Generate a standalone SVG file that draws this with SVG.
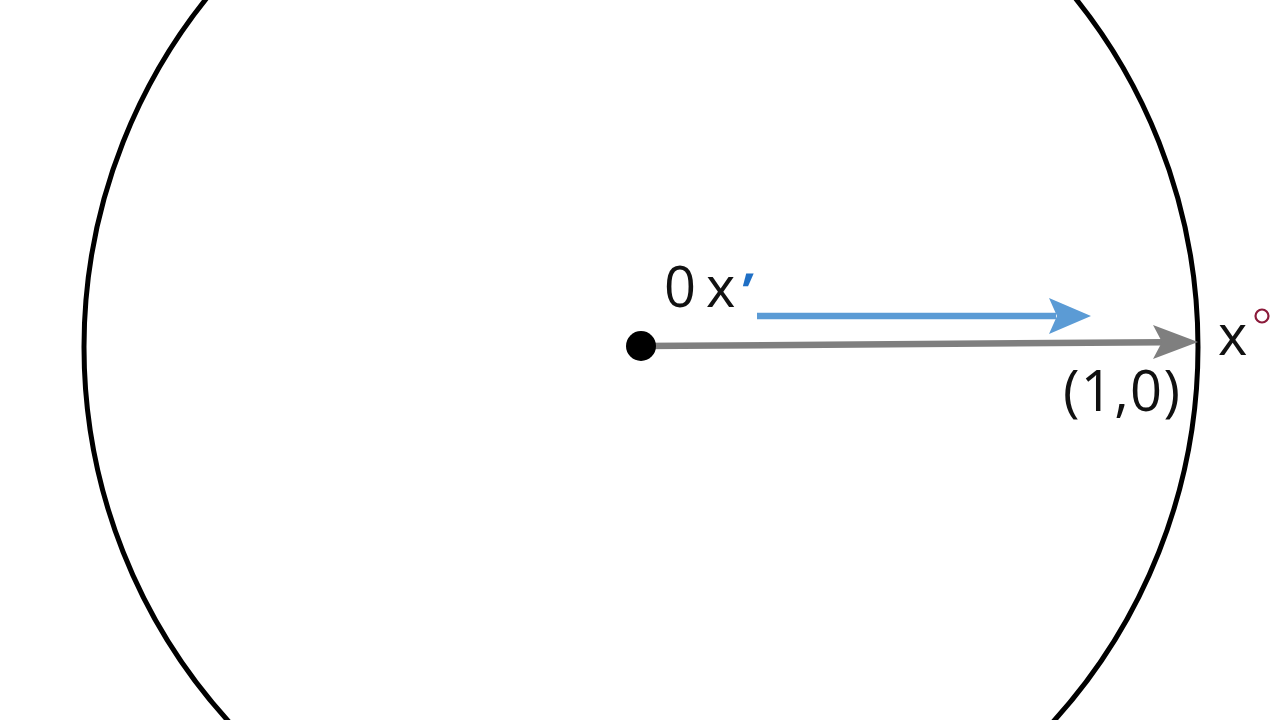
<svg xmlns="http://www.w3.org/2000/svg" width="1280" height="720" viewBox="0 0 1280 720">
<style>
.t{font-family:"Open Sans","Liberation Sans",sans-serif;fill:#111}
.g{stroke:#7f7f7f;stroke-width:6.5;fill:none}
.b{stroke:#5b9bd5;stroke-width:6.5;fill:none}
</style>
<rect width="1280" height="720" fill="#fff"/>
<g id="circle"><circle cx="641" cy="347" r="557" fill="none" stroke="#000" stroke-width="5"/></g>
<g id="connectors">
<line class="g" x1="641" y1="346" x2="1162" y2="342.3"/>
<path d="M1153,325 L1198,342 L1153,359 L1162,342 Z" fill="#7f7f7f"/>
<line class="b" x1="757" y1="316" x2="1056" y2="316"/>
<path d="M1049,298 L1091,316 L1049,334 L1057,316 Z" fill="#5b9bd5"/>
</g>
<g id="origin"><circle cx="641" cy="346" r="15" fill="#000"/></g>
<g id="labels">
<text class="t" x="664" y="307" font-size="56">0</text>
<text class="t" x="706" y="307" font-size="56">x</text>
<text x="738" y="308" font-size="50" font-weight="bold" font-family="Liberation Sans, sans-serif" fill="#1f6fc5" transform="skewX(-8) translate(43,0)">′</text>
<text class="t" x="1063" y="411" font-size="56" textLength="117">(1,0)</text>
<text class="t" x="1218" y="355" font-size="56">x</text>
<circle cx="1262" cy="316" r="6.5" fill="none" stroke="#8b1a3a" stroke-width="2.2"/>
</g>
</svg>
